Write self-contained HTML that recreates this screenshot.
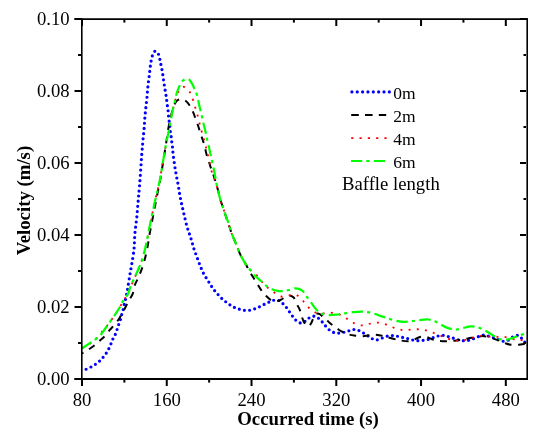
<!DOCTYPE html>
<html><head><meta charset="utf-8"><title>Velocity vs Occurred time</title>
<style>
html,body{margin:0;padding:0;background:#fff;}
body{width:550px;height:436px;overflow:hidden;}
svg{display:block;}
text{font-family:"Liberation Serif","Times New Roman",serif;fill:#000;font-variant-ligatures:none;}
</style></head><body>
<svg width="550" height="436" viewBox="0 0 550 436">
<rect width="550" height="436" fill="#fff"/>
<g fill="none" stroke-linecap="butt">

<path d="M83.5,370.6 C84.2,370.2 84.7,369.9 85.5,369.5 C86.8,368.9 88.9,368.1 90.5,367.2 C92.1,366.4 93.7,365.4 95.2,364.4 C96.6,363.4 98.0,362.4 99.3,361.3 C100.6,360.1 101.7,358.9 102.9,357.5 C104.1,356.1 105.4,354.5 106.4,352.9 C107.4,351.4 108.2,349.9 109.0,348.3 C109.8,346.6 110.6,344.7 111.3,343.0 C112.0,341.4 112.5,339.8 113.2,338.2 C113.9,336.6 115.0,335.1 115.7,333.5 C116.4,331.9 116.8,330.2 117.4,328.5 C118.0,326.8 118.5,325.1 119.1,323.4 C119.7,321.7 120.3,320.1 120.8,318.4 C121.3,316.7 121.5,315.0 122.0,313.3 C122.4,311.6 123.1,310.0 123.5,308.3 C123.9,306.6 124.1,304.9 124.5,303.2 C124.9,301.5 125.3,299.9 125.7,298.2 C126.1,296.4 126.6,294.3 127.0,292.5 C127.3,290.8 127.5,289.6 127.8,287.6 C128.3,284.6 129.0,280.2 129.6,276.5 C130.2,272.8 130.8,269.5 131.5,265.5 C132.3,260.8 133.3,255.4 133.9,250.2 C134.5,244.8 134.4,239.2 134.9,233.7 C135.4,228.2 136.2,222.7 136.8,217.2 C137.3,211.7 137.7,206.0 138.2,200.7 C138.6,195.7 139.0,192.1 139.5,186.2 C140.3,176.8 141.4,158.4 142.1,150.0 C142.5,145.5 142.7,143.2 143.0,139.7 C143.3,136.1 143.8,132.3 144.1,128.7 C144.4,125.2 144.5,121.8 144.8,118.4 C145.1,115.0 145.4,111.6 145.8,108.1 C146.2,104.5 146.7,100.0 147.0,97.0 C147.2,95.0 147.3,93.7 147.4,92.0 C147.6,90.3 147.7,88.5 147.9,86.7 C148.1,84.9 148.3,83.0 148.5,81.2 C148.7,79.5 149.0,77.9 149.2,76.2 C149.4,74.5 149.6,72.7 149.8,70.9 C150.0,69.1 150.2,67.3 150.4,65.6 C150.6,63.9 150.9,62.3 151.2,60.6 C151.6,58.9 151.9,57.0 152.5,55.4 C153.1,53.9 154.0,51.7 154.9,51.3 C155.4,51.1 156.1,51.3 156.6,51.6 C157.3,52.0 157.9,53.0 158.4,54.0 C159.0,55.2 159.3,57.0 159.7,58.6 C160.1,60.3 160.4,62.3 160.8,64.1 C161.2,65.9 161.6,67.6 161.9,69.3 C162.2,71.1 162.5,72.8 162.8,74.6 C163.1,76.4 163.2,78.1 163.5,79.9 C163.7,81.6 164.0,83.3 164.3,85.1 C164.6,86.9 164.9,88.8 165.2,90.6 C165.5,92.3 165.8,94.0 166.1,95.7 C166.4,97.5 166.6,99.4 166.8,101.2 C167.0,103.0 167.3,104.9 167.5,106.7 C167.7,108.4 168.0,109.8 168.2,111.5 C168.4,113.3 168.4,115.2 168.6,117.0 C168.8,118.8 169.1,120.7 169.3,122.5 C169.5,124.2 169.8,125.6 170.0,127.3 C170.2,129.1 170.3,131.0 170.5,132.8 C170.7,134.5 171.1,135.9 171.3,137.6 C171.5,139.4 171.7,141.3 171.9,143.1 C172.1,144.8 172.4,146.2 172.6,147.9 C172.8,149.7 172.8,151.3 173.0,153.4 C173.3,156.4 174.0,160.8 174.5,164.4 C175.0,167.9 175.6,171.3 176.2,174.7 C176.8,178.2 177.6,181.6 178.2,185.1 C178.8,188.5 179.3,192.0 179.9,195.4 C180.5,198.8 181.3,202.3 182.0,205.7 C182.8,209.1 183.6,212.6 184.4,216.0 C185.2,219.4 186.1,223.4 186.9,226.3 C187.5,228.4 188.1,230.0 188.7,231.8 C189.3,233.6 189.9,235.3 190.5,237.0 C191.0,238.7 191.5,240.3 192.0,242.0 C192.5,243.6 192.8,245.3 193.3,246.9 C193.8,248.6 194.5,250.4 195.1,252.1 C195.7,253.8 196.4,255.5 197.0,257.2 C197.6,258.9 198.2,260.6 198.8,262.2 C199.4,263.8 200.0,265.2 200.6,266.8 C201.3,268.5 202.0,270.3 202.8,271.9 C203.5,273.4 204.3,274.9 205.2,276.3 C206.1,277.8 207.1,279.1 208.0,280.6 C208.9,282.1 209.7,283.6 210.7,285.1 C211.7,286.7 212.9,288.4 214.0,289.9 C215.0,291.2 216.1,292.4 217.2,293.6 C218.3,294.9 219.5,296.2 220.7,297.4 C222.0,298.7 223.4,299.9 224.8,301.0 C226.2,302.2 227.7,303.3 229.2,304.3 C230.7,305.3 232.3,306.4 233.9,307.2 C235.5,308.0 237.2,308.6 238.9,309.1 C240.6,309.6 242.4,310.1 244.1,310.3 C245.8,310.5 247.6,310.5 249.3,310.3 C251.0,310.1 252.7,309.6 254.3,309.0 C256.0,308.4 257.6,307.7 259.2,306.9 C260.9,306.1 262.5,305.2 264.2,304.4 C265.8,303.6 267.5,302.8 269.1,302.1 C270.7,301.4 272.4,300.5 274.0,300.2 C275.5,299.9 277.2,299.9 278.6,300.4 C280.1,300.9 281.5,302.3 282.8,303.5 C284.2,304.8 285.5,306.3 286.7,307.8 C287.8,309.2 288.6,310.6 289.6,312.0 C290.6,313.4 291.6,314.9 292.6,316.3 C293.6,317.7 294.5,319.1 295.8,320.2 C297.2,321.4 299.1,322.9 300.8,323.0 C302.4,323.1 304.1,321.8 305.6,320.9 C307.1,320.0 308.2,318.3 309.8,317.5 C311.3,316.7 313.2,316.0 314.8,316.2 C316.4,316.4 318.0,317.8 319.4,319.0 C320.9,320.2 322.2,321.9 323.5,323.4 C324.7,324.8 325.7,326.4 327.0,327.7 C328.4,329.1 329.9,330.6 331.6,331.5 C333.2,332.4 335.0,332.9 336.8,333.1 C338.5,333.3 340.3,332.9 342.0,332.6 C343.7,332.3 345.4,332.0 347.1,331.5 C348.8,331.0 350.5,329.8 352.3,329.6 C354.0,329.4 355.8,329.6 357.4,330.0 C359.0,330.4 360.5,331.5 362.0,332.3 C363.5,333.1 365.1,333.9 366.6,334.9 C368.2,335.9 369.6,337.4 371.2,338.2 C372.8,339.0 374.6,339.9 376.3,339.9 C377.9,339.9 379.6,339.0 381.2,338.4 C382.8,337.8 384.4,337.0 386.1,336.5 C387.9,336.0 389.8,335.7 391.6,335.6 C393.3,335.5 394.9,335.8 396.6,336.1 C398.3,336.4 400.2,336.9 401.9,337.3 C403.6,337.7 405.2,338.0 406.9,338.4 C408.6,338.8 410.4,339.5 412.2,339.9 C413.9,340.3 415.6,340.6 417.3,340.7 C419.0,340.8 420.8,340.6 422.5,340.4 C424.2,340.2 425.8,340.0 427.4,339.6 C429.1,339.2 430.8,338.5 432.5,337.9 C434.2,337.3 435.9,336.5 437.6,336.1 C439.3,335.7 441.1,335.2 442.8,335.3 C444.5,335.4 446.2,336.0 447.9,336.5 C449.6,337.0 451.4,337.5 453.1,338.1 C454.8,338.7 456.6,339.5 458.3,339.9 C460.0,340.3 461.7,340.6 463.4,340.7 C465.1,340.8 466.8,340.7 468.4,340.4 C470.0,340.1 471.6,339.4 473.2,338.8 C474.9,338.2 476.6,337.3 478.3,336.7 C480.0,336.1 481.7,335.1 483.4,335.0 C485.1,334.9 486.8,335.7 488.5,336.1 C490.2,336.5 491.8,337.0 493.4,337.6 C495.1,338.2 496.8,339.0 498.5,339.6 C500.2,340.2 502.0,341.3 503.7,341.3 C505.4,341.3 507.3,340.6 508.8,339.9 C510.3,339.2 511.4,337.7 512.9,336.9 C514.4,336.1 516.5,335.0 518.0,335.3 C519.4,335.6 520.6,337.2 521.8,338.4 C523.1,339.7 524.3,341.5 525.5,343.0" stroke="#0000ff" stroke-width="3.2" stroke-dasharray="0 5.215" stroke-dashoffset="2.175" stroke-linecap="round"/>
<path d="M82.0,353.5 C84.2,352.2 86.5,350.9 88.6,349.5 C90.6,348.2 92.5,346.9 94.3,345.5 C96.1,344.1 97.8,342.4 99.5,340.9 C101.2,339.4 102.9,338.0 104.6,336.3 C106.4,334.4 108.3,331.7 110.0,329.7 C111.5,327.9 113.0,326.5 114.5,324.7 C116.0,322.9 117.7,320.8 118.9,319.0 C119.9,317.5 120.5,316.2 121.4,314.6 C122.5,312.6 124.0,310.0 125.2,307.7 C126.3,305.5 127.2,303.5 128.4,301.3 C129.6,298.9 131.7,296.4 132.7,293.8 C133.7,291.2 133.6,288.5 134.6,285.7 C135.7,282.5 137.7,279.2 139.2,275.6 C140.8,271.6 142.5,267.3 143.8,262.8 C145.2,258.1 146.3,253.0 147.3,248.0 C148.3,243.0 148.9,238.1 149.8,233.0 C150.7,227.7 151.9,222.2 152.9,217.0 C153.8,212.2 154.7,207.5 155.6,203.0 C156.4,198.8 157.2,194.8 158.0,191.0 C158.7,187.5 159.3,184.8 160.0,181.0 C160.9,175.9 162.0,169.1 163.0,163.0 C164.0,156.8 165.0,150.2 166.0,144.0 C166.9,138.2 167.7,132.0 168.6,127.0 C169.4,122.9 170.0,119.7 171.0,116.0 C172.0,112.1 173.2,107.0 174.6,104.2 C175.5,102.4 176.4,101.1 177.5,100.3 C178.4,99.6 179.5,99.3 180.5,99.2 C181.4,99.1 182.2,99.3 183.0,99.5 C183.9,99.7 184.7,100.0 185.6,100.7 C186.9,101.7 188.5,103.7 189.7,105.5 C191.0,107.5 192.2,110.1 193.2,112.4 C194.2,114.6 194.8,116.8 195.6,119.0 C196.4,121.3 197.4,123.7 198.2,126.0 C199.0,128.3 199.5,130.5 200.3,132.9 C201.1,135.5 202.4,138.8 203.1,141.1 C203.6,142.7 203.9,143.6 204.4,145.2 C205.1,147.6 205.7,151.5 206.5,154.2 C207.1,156.5 207.9,158.3 208.6,160.4 C209.3,162.6 209.9,165.1 210.6,167.2 C211.3,169.1 212.0,170.7 212.7,172.7 C213.6,175.2 214.4,178.1 215.3,181.0 C216.2,184.1 217.3,187.5 218.1,190.6 C218.9,193.5 219.3,196.2 220.1,198.9 C220.9,201.7 222.0,204.4 222.9,207.1 C223.8,209.9 224.7,212.6 225.6,215.4 C226.5,218.1 227.5,220.8 228.4,223.6 C229.4,226.5 230.2,229.4 231.3,232.4 C232.5,235.7 234.0,239.1 235.5,242.7 C237.1,246.6 238.8,251.3 240.6,255.1 C242.2,258.5 244.1,261.2 245.8,264.3 C247.5,267.4 249.1,270.6 250.9,273.6 C252.6,276.5 254.4,279.1 256.1,281.9 C257.8,284.6 259.4,287.6 261.2,290.1 C262.8,292.3 264.4,294.2 266.2,296.0 C267.9,297.7 269.7,299.5 271.5,300.4 C273.0,301.1 274.6,301.4 276.2,301.3 C277.8,301.2 279.5,300.4 281.0,299.7 C282.4,299.0 283.6,298.0 285.0,297.3 C286.4,296.6 288.0,295.5 289.4,295.5 C290.8,295.5 292.3,296.2 293.4,297.3 C294.9,298.8 295.9,302.3 297.0,304.5 C298.0,306.4 298.9,307.8 299.7,309.6 C300.5,311.6 300.9,313.9 301.6,316.0 C302.3,318.0 303.0,320.3 303.9,322.0 C304.7,323.4 305.6,324.8 306.5,325.5 C307.2,326.0 308.0,326.5 308.7,326.3 C309.5,326.1 310.2,324.7 310.8,323.8 C311.5,322.8 311.9,321.6 312.4,320.3 C313.1,318.8 313.5,316.3 314.4,315.2 C315.1,314.4 315.9,313.9 316.8,313.7 C317.7,313.5 319.0,313.8 319.9,314.2 C320.9,314.6 321.5,315.5 322.5,316.3 C323.7,317.3 325.3,318.6 326.5,319.7 C327.5,320.7 328.1,321.4 329.3,322.5 C331.2,324.1 334.5,326.7 336.8,328.3 C338.7,329.6 340.1,330.7 342.0,331.7 C344.2,332.8 347.1,333.9 349.4,334.6 C351.4,335.2 353.1,335.4 355.2,335.7 C357.6,336.0 360.9,336.4 363.2,336.3 C365.0,336.2 366.1,335.7 367.8,335.4 C369.7,335.1 371.9,334.6 374.1,334.6 C376.5,334.6 379.3,335.2 381.5,335.6 C383.2,336.0 384.3,336.4 386.1,336.9 C388.8,337.6 393.8,339.0 396.4,339.6 C398.0,340.0 398.8,340.2 400.4,340.4 C402.7,340.8 406.5,341.6 409.0,341.3 C411.0,341.1 412.6,340.3 414.2,339.6 C415.7,339.0 417.0,338.0 418.5,337.5 C419.9,337.0 421.3,336.5 422.8,336.5 C424.3,336.5 425.9,336.9 427.4,337.3 C429.0,337.8 430.4,338.6 432.0,339.2 C433.8,339.8 435.9,340.4 437.6,340.7 C438.9,340.9 439.7,341.0 441.1,341.1 C443.2,341.2 446.5,341.4 449.1,341.3 C451.5,341.2 453.7,340.7 456.0,340.4 C458.3,340.1 460.8,340.0 462.9,339.6 C464.7,339.3 466.1,338.8 468.0,338.4 C470.3,338.0 473.1,337.7 475.5,337.3 C477.9,336.9 480.0,336.1 482.4,336.1 C485.1,336.1 488.4,337.2 491.1,337.9 C493.5,338.6 495.6,339.4 497.9,340.2 C500.2,341.1 502.7,342.2 504.8,343.0 C506.5,343.6 507.6,344.2 509.4,344.5 C511.9,344.9 515.8,344.9 518.6,344.7 C521.1,344.5 523.2,344.0 525.5,343.6" stroke="#000" stroke-width="2" stroke-dasharray="6.8 6.5" stroke-dashoffset="5.1"/>
<path d="M82.0,348.5 C85.2,346.5 88.8,344.6 91.5,342.6 C93.7,340.9 95.5,339.1 97.2,337.4 C98.6,335.9 99.7,334.6 101.0,333.0 C102.5,331.3 104.0,329.4 105.6,327.5 C107.3,325.4 109.1,323.1 110.7,320.9 C112.2,318.8 113.7,316.8 115.1,314.6 C116.6,312.4 118.1,310.0 119.5,307.7 C120.9,305.4 122.0,302.9 123.4,300.7 C124.7,298.5 126.4,296.7 127.7,294.4 C129.0,292.0 129.8,289.2 130.9,286.5 C132.1,283.7 133.4,280.8 134.6,278.0 C135.8,275.2 137.2,272.2 138.3,269.5 C139.3,267.1 140.2,265.1 141.0,262.8 C141.8,260.4 142.4,258.4 143.2,255.5 C144.4,251.3 145.9,245.0 147.1,239.9 C148.1,235.0 148.8,230.3 149.8,225.5 C150.8,220.7 151.9,215.6 152.9,211.0 C153.8,206.7 154.7,202.5 155.6,198.6 C156.4,195.0 157.3,191.4 158.0,188.3 C158.6,185.7 159.1,184.0 159.7,181.0 C160.6,176.5 161.6,169.2 162.5,164.0 C163.3,159.5 164.0,155.5 164.7,151.4 C165.4,147.6 166.1,143.9 166.8,140.4 C167.5,137.1 168.3,134.0 168.9,130.7 C169.5,127.2 169.9,123.5 170.5,120.0 C171.1,116.7 171.8,113.6 172.6,110.4 C173.3,107.2 174.1,103.9 175.0,101.0 C175.8,98.5 176.4,96.1 177.4,93.9 C178.4,91.8 179.5,89.1 180.8,88.0 C181.6,87.2 182.5,86.8 183.5,86.8 C184.6,86.8 186.0,87.6 187.0,88.4 C188.2,89.4 189.2,91.2 190.0,92.5 C190.7,93.7 191.2,94.5 191.8,95.9 C192.6,97.9 193.1,100.9 193.9,103.5 C194.7,106.2 195.8,108.9 196.6,111.7 C197.4,114.4 198.0,117.2 198.7,120.0 C199.4,122.7 200.0,125.4 200.7,128.1 C201.4,130.8 202.4,133.6 203.1,136.3 C203.8,138.9 204.4,141.3 205.1,143.9 C205.8,146.6 206.5,149.4 207.2,152.1 C207.9,154.9 208.5,157.5 209.2,160.4 C209.9,163.5 210.5,167.1 211.3,170.0 C212.0,172.5 212.8,174.9 213.5,177.0 C214.1,178.7 214.7,179.7 215.3,181.5 C216.2,184.0 217.3,187.6 218.1,190.6 C218.9,193.4 219.3,196.2 220.1,198.9 C220.9,201.7 222.0,204.4 222.9,207.1 C223.8,209.9 224.7,212.6 225.6,215.4 C226.5,218.1 227.5,220.8 228.4,223.6 C229.4,226.5 230.2,229.4 231.3,232.4 C232.5,235.7 234.0,239.1 235.5,242.7 C237.1,246.6 238.8,251.3 240.6,255.1 C242.2,258.5 244.0,261.6 245.8,264.3 C247.4,266.6 249.1,268.7 250.9,270.5 C252.5,272.1 254.5,273.0 256.1,274.6 C257.9,276.4 259.4,278.8 261.2,280.8 C263.0,282.9 265.0,285.1 267.0,287.0 C268.9,288.8 270.8,290.2 273.0,291.7 C275.4,293.4 278.2,295.9 281.0,296.5 C283.6,297.0 286.5,295.6 289.1,295.3 C291.6,295.0 294.1,294.1 296.3,294.9 C298.7,295.7 300.7,298.5 302.7,300.5 C304.6,302.5 305.9,304.9 308.0,306.9 C310.2,309.0 312.7,311.4 315.5,312.5 C318.2,313.5 321.4,313.4 324.2,313.4 C326.9,313.4 329.6,312.6 332.2,312.8 C334.8,313.0 337.3,313.6 339.7,314.5 C342.1,315.5 344.2,317.1 346.5,318.5 C348.9,320.0 351.4,321.9 354.0,323.1 C356.6,324.2 359.3,325.3 362.0,325.4 C364.7,325.5 367.4,324.1 370.1,323.7 C372.9,323.2 375.8,322.5 378.6,322.7 C381.3,322.9 384.0,323.8 386.6,324.7 C389.2,325.6 391.5,327.0 394.1,327.9 C396.8,328.8 399.9,329.8 402.7,330.1 C405.4,330.4 408.0,329.7 410.7,329.6 C413.4,329.5 416.1,329.1 418.8,329.3 C421.5,329.5 424.2,330.0 426.8,330.7 C429.5,331.4 432.1,332.3 434.8,333.3 C437.5,334.3 440.1,335.4 442.8,336.5 C445.5,337.5 448.1,338.9 450.8,339.6 C453.4,340.3 456.1,340.7 458.8,340.7 C461.5,340.7 464.2,340.2 466.9,339.6 C469.8,339.0 472.7,337.6 475.5,336.9 C478.2,336.3 480.7,335.6 483.5,335.6 C486.6,335.6 490.3,337.2 493.4,337.3 C496.2,337.4 498.7,336.4 501.4,336.5 C504.1,336.6 506.7,337.3 509.4,337.9 C512.1,338.5 514.7,339.9 517.4,340.2 C520.1,340.5 522.8,339.8 525.5,339.6" stroke="#ff0000" stroke-width="1.8" stroke-dasharray="2 6.22" stroke-dashoffset="7.7"/>
<path d="M82.0,348.3 C85.0,346.3 88.0,344.5 91.0,342.4 C94.2,340.1 98.0,337.6 100.5,335.0 C102.7,332.8 103.9,330.3 105.6,328.0 C107.3,325.6 109.1,323.2 110.7,320.9 C112.2,318.7 113.7,316.8 115.1,314.6 C116.6,312.4 118.1,310.0 119.5,307.7 C120.9,305.4 122.0,302.9 123.4,300.7 C124.7,298.5 126.5,296.8 127.7,294.4 C129.0,291.8 129.7,288.5 130.9,285.7 C132.0,282.9 133.4,280.2 134.6,277.5 C135.8,274.7 137.2,271.8 138.3,269.2 C139.3,266.9 140.2,264.9 141.0,262.8 C141.8,260.7 142.4,259.1 143.2,256.4 C144.4,252.2 145.9,245.2 147.1,239.9 C148.1,234.9 148.8,230.3 149.8,225.5 C150.8,220.7 151.9,215.6 152.9,211.0 C153.8,206.7 154.7,202.5 155.6,198.6 C156.4,195.0 157.3,191.4 158.0,188.3 C158.6,185.7 159.0,184.3 159.7,181.0 C161.0,174.5 163.4,158.9 164.7,151.4 C165.5,146.8 166.1,143.9 166.8,140.4 C167.5,137.1 168.2,134.0 168.9,130.7 C169.6,127.2 170.2,123.4 170.9,119.7 C171.6,116.0 172.2,112.1 173.0,108.7 C173.7,105.8 174.5,103.1 175.1,100.5 C175.7,98.0 176.0,95.7 176.7,93.3 C177.4,90.9 178.3,88.5 179.4,86.3 C180.4,84.3 181.5,81.8 182.9,80.6 C183.9,79.7 185.2,79.0 186.3,78.9 C187.3,78.8 188.3,79.0 189.1,79.5 C190.2,80.2 191.0,81.9 191.8,83.3 C192.8,85.0 193.7,87.1 194.6,89.2 C195.5,91.4 196.5,93.5 197.3,96.0 C198.2,99.0 198.6,102.6 199.4,106.0 C200.2,109.6 201.3,113.8 202.1,117.2 C202.7,119.9 203.1,122.1 203.7,124.6 C204.3,127.3 205.2,130.3 205.8,132.9 C206.3,135.3 206.7,137.3 207.2,139.7 C207.8,142.3 208.6,145.4 209.2,148.0 C209.7,150.4 210.1,152.6 210.6,154.9 C211.1,157.4 211.7,159.7 212.3,162.4 C213.0,165.6 213.9,169.4 214.5,172.7 C215.1,175.7 215.4,178.6 216.0,181.5 C216.6,184.5 217.4,187.6 218.1,190.6 C218.8,193.4 219.3,196.2 220.1,198.9 C220.9,201.7 222.0,204.4 222.9,207.1 C223.8,209.9 224.7,212.8 225.6,215.4 C226.5,217.9 227.4,219.9 228.3,222.5 C229.3,225.5 230.1,229.1 231.3,232.4 C232.5,235.8 234.0,239.1 235.5,242.7 C237.1,246.6 238.8,251.3 240.6,255.1 C242.2,258.5 244.0,261.6 245.8,264.3 C247.4,266.7 249.3,268.8 250.9,270.8 C252.2,272.4 253.1,273.8 254.6,275.3 C256.4,277.2 259.0,279.2 261.0,281.0 C262.9,282.7 264.6,284.6 266.5,286.0 C268.3,287.3 270.1,288.4 272.0,289.2 C273.8,290.0 275.7,290.5 277.5,290.8 C279.1,291.1 280.6,291.2 282.3,291.1 C284.3,291.0 286.6,290.5 288.8,290.0 C291.0,289.5 293.5,288.4 295.4,288.3 C296.8,288.2 297.8,288.5 299.0,288.9 C300.3,289.4 301.8,290.2 303.0,291.3 C304.4,292.6 305.3,294.7 306.6,296.5 C308.1,298.5 309.8,300.8 311.4,302.9 C313.0,305.1 314.4,307.6 316.2,309.4 C317.8,311.1 319.5,312.7 321.5,313.6 C323.6,314.6 326.2,314.9 328.8,315.1 C331.7,315.3 335.1,314.8 337.9,314.5 C340.4,314.2 342.4,313.8 344.8,313.4 C347.4,313.0 350.2,312.5 352.9,312.2 C355.6,311.9 358.3,311.6 360.9,311.6 C363.3,311.6 365.6,311.9 367.8,312.2 C369.9,312.5 371.6,312.9 373.8,313.5 C376.5,314.3 379.8,315.7 382.6,316.6 C385.0,317.4 387.2,318.2 389.5,318.9 C391.8,319.6 394.0,320.4 396.4,320.9 C398.9,321.4 401.8,321.8 404.4,321.8 C406.9,321.8 409.4,321.5 411.9,321.2 C414.4,320.9 416.7,320.4 419.3,320.1 C422.2,319.8 425.7,319.2 428.5,319.5 C430.8,319.7 432.7,320.4 434.8,321.2 C437.0,322.1 438.9,323.6 441.1,324.7 C443.3,325.9 445.5,327.3 447.9,328.1 C450.4,328.9 453.4,329.6 456.0,329.6 C458.4,329.6 460.5,328.6 462.9,328.1 C465.5,327.5 468.3,326.5 470.9,326.4 C473.4,326.3 476.0,326.8 478.3,327.5 C480.4,328.1 482.3,329.2 484.1,330.1 C485.8,330.9 487.3,331.8 488.8,332.7 C490.4,333.6 491.9,334.6 493.4,335.6 C494.9,336.5 496.3,337.7 497.9,338.4 C499.4,339.0 501.0,339.4 502.5,339.6 C504.0,339.8 505.5,339.8 507.1,339.6 C508.9,339.3 510.9,338.5 512.9,337.9 C515.0,337.2 517.2,336.3 519.2,335.6 C521.0,335.0 522.6,334.4 524.3,333.8" stroke="#00ff00" stroke-width="2.2" stroke-dasharray="11.35 4.1 3.2 4.43" stroke-dashoffset="0.15"/>

</g>
<g stroke="#000" stroke-width="2" fill="none">
<line x1="74.5" y1="19.15" x2="528" y2="19.15" stroke-width="1.7"/><line x1="74.5" y1="379" x2="528" y2="379"/><line x1="81.8" y1="18.3" x2="81.8" y2="386" stroke-width="1.6"/><line x1="527.2" y1="18.3" x2="527.2" y2="380" stroke-width="1.6"/>
<line x1="82.00" y1="380" x2="82.00" y2="386"/><line x1="82.00" y1="20" x2="82.00" y2="26"/><line x1="124.38" y1="380" x2="124.38" y2="382.6"/><line x1="124.38" y1="20" x2="124.38" y2="22.6"/><line x1="166.76" y1="380" x2="166.76" y2="386"/><line x1="166.76" y1="20" x2="166.76" y2="26"/><line x1="209.14" y1="380" x2="209.14" y2="382.6"/><line x1="209.14" y1="20" x2="209.14" y2="22.6"/><line x1="251.52" y1="380" x2="251.52" y2="386"/><line x1="251.52" y1="20" x2="251.52" y2="26"/><line x1="293.90" y1="380" x2="293.90" y2="382.6"/><line x1="293.90" y1="20" x2="293.90" y2="22.6"/><line x1="336.29" y1="380" x2="336.29" y2="386"/><line x1="336.29" y1="20" x2="336.29" y2="26"/><line x1="378.67" y1="380" x2="378.67" y2="382.6"/><line x1="378.67" y1="20" x2="378.67" y2="22.6"/><line x1="421.05" y1="380" x2="421.05" y2="386"/><line x1="421.05" y1="20" x2="421.05" y2="26"/><line x1="463.43" y1="380" x2="463.43" y2="382.6"/><line x1="463.43" y1="20" x2="463.43" y2="22.6"/><line x1="505.81" y1="380" x2="505.81" y2="386"/><line x1="505.81" y1="20" x2="505.81" y2="26"/><line x1="74.5" y1="379.00" x2="81" y2="379.00"/><line x1="526" y1="379.00" x2="520" y2="379.00"/><line x1="78" y1="343.00" x2="81" y2="343.00"/><line x1="526" y1="343.00" x2="523.5" y2="343.00"/><line x1="74.5" y1="307.00" x2="81" y2="307.00"/><line x1="526" y1="307.00" x2="520" y2="307.00"/><line x1="78" y1="271.00" x2="81" y2="271.00"/><line x1="526" y1="271.00" x2="523.5" y2="271.00"/><line x1="74.5" y1="235.00" x2="81" y2="235.00"/><line x1="526" y1="235.00" x2="520" y2="235.00"/><line x1="78" y1="199.00" x2="81" y2="199.00"/><line x1="526" y1="199.00" x2="523.5" y2="199.00"/><line x1="74.5" y1="163.00" x2="81" y2="163.00"/><line x1="526" y1="163.00" x2="520" y2="163.00"/><line x1="78" y1="127.00" x2="81" y2="127.00"/><line x1="526" y1="127.00" x2="523.5" y2="127.00"/><line x1="74.5" y1="91.00" x2="81" y2="91.00"/><line x1="526" y1="91.00" x2="520" y2="91.00"/><line x1="78" y1="55.00" x2="81" y2="55.00"/><line x1="526" y1="55.00" x2="523.5" y2="55.00"/><line x1="74.5" y1="19.00" x2="81" y2="19.00"/><line x1="526" y1="19.00" x2="520" y2="19.00"/>
</g>
<g font-size="18.7">
<text x="69.6" y="385.2" text-anchor="end">0.00</text><text x="69.6" y="313.2" text-anchor="end">0.02</text><text x="69.6" y="241.2" text-anchor="end">0.04</text><text x="69.6" y="169.2" text-anchor="end">0.06</text><text x="69.6" y="97.2" text-anchor="end">0.08</text><text x="69.6" y="25.2" text-anchor="end">0.10</text>
<text x="82.0" y="405.6" text-anchor="middle">80</text><text x="166.8" y="405.6" text-anchor="middle">160</text><text x="251.5" y="405.6" text-anchor="middle">240</text><text x="336.3" y="405.6" text-anchor="middle">320</text><text x="421.0" y="405.6" text-anchor="middle">400</text><text x="505.8" y="405.6" text-anchor="middle">480</text>
</g>
<text x="308" y="425" font-size="18.8" font-weight="bold" text-anchor="middle">Occurred time (s)</text>
<text transform="translate(30.1,200.5) rotate(-90)" font-size="18.8" font-weight="bold" text-anchor="middle">Velocity (m/s)</text>
<g fill="none">
<line x1="351.9" y1="91.9" x2="389.5" y2="91.9" stroke="#0000ff" stroke-width="3.2" stroke-dasharray="0 5.35" stroke-linecap="round"/>
<line x1="351.2" y1="114.9" x2="386.2" y2="114.9" stroke="#000" stroke-width="2" stroke-dasharray="7.6 6.2"/>
<line x1="351.2" y1="138.1" x2="387" y2="138.1" stroke="#ff0000" stroke-width="1.8" stroke-dasharray="2.2 6.1"/>
<line x1="351" y1="161" x2="385.2" y2="161" stroke="#00ff00" stroke-width="2.2" stroke-dasharray="11.2 4.1 3.2 4.4"/>
</g>
<g font-size="17.5">
<text x="393.3" y="98.6">0m</text>
<text x="393.3" y="121.6">2m</text>
<text x="393.3" y="144.6">4m</text>
<text x="393.3" y="167.6">6m</text>
</g>
<text x="342" y="190.3" font-size="18.7">Baffle length</text>
</svg>
</body></html>
